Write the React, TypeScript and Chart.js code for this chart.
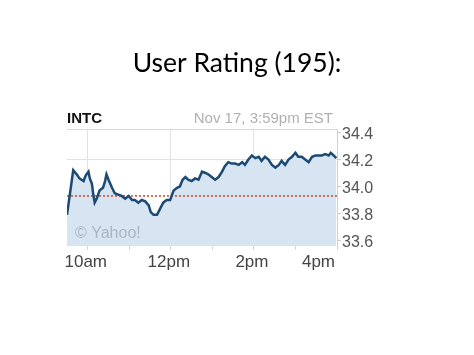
import { useEffect, useRef } from "react";
import { Chart, registerables } from "chart.js";

Chart.register(...registerables);

const title = "User Rating (195):";
const symbol = "INTC";
const stamp = "Nov 17, 3:59pm EST";
const credit = "© Yahoo!";

// minutes since midnight (9:30 = 570, 16:00 = 960)
const times = [
  570, 579, 584, 588, 591, 594, 596, 598, 601, 603, 606, 608, 610, 613, 617, 622, 625, 627, 630, 635,
  639, 644, 649, 654, 659, 664, 668, 673, 678, 683, 688, 691, 695, 700, 704, 709, 714, 719, 724, 729,
  733, 737, 741, 745, 750, 755, 760, 765, 770, 774, 779, 784, 789, 794, 798, 803, 808, 813, 818, 823,
  827, 832, 837, 842, 847, 851, 856, 861, 866, 871, 876, 880, 885, 890, 895, 900, 904, 909, 914, 919,
  924, 929, 933, 938, 943, 948, 951, 955, 959,
];
const prices = [
  33.79, 34.12, 34.09, 34.06, 34.05, 34.04, 34.07, 34.09, 34.11, 34.06, 34.02, 33.94, 33.88, 33.91, 33.97, 33.99, 34.04, 34.09, 34.05, 33.99,
  33.95, 33.94, 33.93, 33.91, 33.93, 33.9, 33.9, 33.88, 33.9, 33.89, 33.86, 33.81, 33.79, 33.79, 33.83, 33.88, 33.9, 33.9, 33.97, 33.99,
  34.0, 34.05, 34.07, 34.05, 34.04, 34.06, 34.05, 34.11, 34.1, 34.09, 34.07, 34.05, 34.07, 34.11, 34.15, 34.18, 34.17, 34.17, 34.16, 34.18,
  34.16, 34.2, 34.23, 34.21, 34.22, 34.19, 34.22, 34.2, 34.16, 34.14, 34.16, 34.19, 34.16, 34.2, 34.22, 34.25, 34.22, 34.22, 34.2, 34.18,
  34.22, 34.23, 34.23, 34.23, 34.24, 34.23, 34.25, 34.23, 34.21,
];
const previousClose = 33.93;

const sessionStart = 570;
const sessionEnd = 960;
const xTickValues = [600, 720, 840, 960];
const xTickLabels = ["10am", "12pm", "2pm", "4pm"];
const xGridValues = [600, 720, 840];
const yMin = 33.559;
const yMax = 34.426;
const yStep = 0.2;
const yGridValues = [34.2];

const textPlugin = {
  id: "yahooTexts",
  beforeDraw(chart: any) {
    const ctx = chart.ctx;
    ctx.save();
    ctx.fillStyle = "#ffffff";
    ctx.fillRect(0, 0, chart.width, chart.height);
    ctx.restore();
  },
  afterDraw(chart: any) {
    const ctx = chart.ctx;
    const { left, right, top, bottom } = chart.chartArea;
    ctx.save();
    ctx.strokeStyle = "#d9d9d9";
    ctx.lineWidth = 1;
    ctx.beginPath();
    ctx.moveTo(left, top + 0.5);
    ctx.lineTo(right, top + 0.5);
    ctx.stroke();

    ctx.fillStyle = "#000000";
    ctx.font = '26.5px Lato';
    ctx.textAlign = "center";
    ctx.textBaseline = "alphabetic";
    ctx.fillText(title, 237, 72);

    ctx.font = 'bold 15px "Liberation Sans"';
    ctx.textAlign = "left";
    ctx.fillStyle = "#111111";
    ctx.fillText(symbol, left, top - 6);

    ctx.font = '15px "Liberation Sans"';
    ctx.fillStyle = "#b0b0b0";
    ctx.textAlign = "right";
    ctx.fillText(stamp, right - 4, top - 6);

    ctx.font = '16px "Liberation Sans"';
    ctx.fillStyle = "#a9b7c5";
    ctx.textAlign = "left";
    ctx.fillText(credit, left + 8, bottom - 8);

    const xs = chart.scales.x;
    ctx.font = '17px "Liberation Sans"';
    ctx.fillStyle = "#444444";
    xTickValues.forEach((v, i) => {
      const last = i === xTickValues.length - 1;
      const px = xs.getPixelForValue(v);
      ctx.textAlign = last ? "right" : "center";
      ctx.fillText(xTickLabels[i], last ? right - 2 : px - 2, bottom + 21);
    });
    ctx.restore();
  },
};

export default function App() {
  const ref = useRef<HTMLCanvasElement | null>(null);
  useEffect(() => {
    if (!ref.current) return;
    const chart = new Chart(ref.current, {
      type: "line",
      data: {
        datasets: [
          {
            data: times.map((t, i) => ({ x: t, y: prices[i] })),
            borderColor: "#1d4a74",
            borderWidth: 2.5,
            backgroundColor: "#d6e5f1",
            fill: "start",
            pointRadius: 0,
            tension: 0,
            order: 1,
          },
          {
            data: [
              { x: sessionStart, y: previousClose },
              { x: sessionEnd, y: previousClose },
            ],
            borderColor: "#d2461e",
            borderWidth: 1.5,
            borderDash: [2, 2],
            pointRadius: 0,
            fill: false,
            order: 2,
          },
        ],
      },
      options: {
        responsive: false,
        animation: false,
        layout: { padding: { left: 67, top: 129, right: 97, bottom: 89 } },
        plugins: {
          legend: { display: false },
          tooltip: { enabled: false },
          title: { display: false },
          filler: { drawTime: "beforeDatasetsDraw" },
        },
        scales: {
          x: {
            type: "linear",
            min: sessionStart,
            max: sessionEnd,
            afterBuildTicks: (s: any) => {
              const arr: any[] = [];
              for (let v = 600; v <= sessionEnd; v += 60) arr.push({ value: v });
              s.ticks = arr;
            },
            afterFit: (s: any) => {
              s.height = 20;
            },
            ticks: { display: false },
            grid: {
              color: (c: any) => (c.tick && xGridValues.includes(c.tick.value) ? "#e2e2e2" : "rgba(0,0,0,0)"),
              tickColor: "#d8d8d8",
              tickLength: 4,
              drawTicks: true,
            },
            border: { display: false },
          },
          y: {
            position: "right",
            min: yMin,
            max: yMax,
            afterFit: (s: any) => {
              s.width = 40;
            },
            ticks: {
              stepSize: yStep,
              includeBounds: false,
              padding: 1,
              labelOffset: 2,
              color: "#555555",
              font: { family: '"Liberation Sans"', size: 16 },
              callback: (v: any) => Number(v).toFixed(1),
            },
            grid: {
              color: (c: any) =>
                c.tick && yGridValues.some((g) => Math.abs(g - c.tick.value) < 1e-6) ? "#e2e2e2" : "rgba(0,0,0,0)",
              tickColor: "#c8c8c8",
              tickLength: 4,
            },
            border: { display: true, color: "#d0d0d0" },
          },
        },
      },
      plugins: [textPlugin],
    });
    return () => chart.destroy();
  }, []);
  return (
    <div style={{ position: "fixed", left: 0, top: 0, width: 474, height: 355, background: "#fff" }}>
      <canvas ref={ref} width={474} height={355} style={{ width: 474, height: 355, display: "block" }} />
    </div>
  );
}
